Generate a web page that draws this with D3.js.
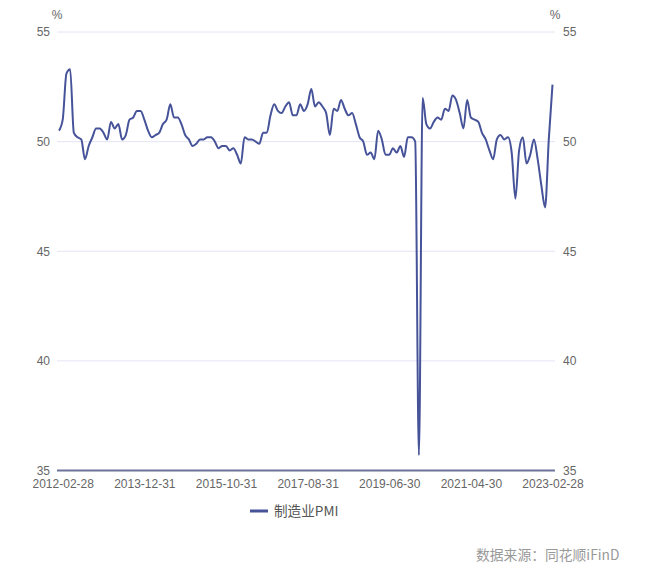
<!DOCTYPE html>
<html>
<head>
<meta charset="utf-8">
<script src="https://cdn.jsdelivr.net/npm/d3@7"></script>
<style>
  html, body { margin: 0; padding: 0; background: #fff; }
  svg { display: block; }
</style>
</head>
<body>
<svg id="chart" width="657" height="572"></svg>
<script>
// Monthly China manufacturing PMI, 2012-01 .. 2023-02
const startMonth = "2012-01";
const pmiValues = [
  50.5, 51.0, 53.1, 53.3, 50.4, 50.2, 50.1, 49.2, 49.8, 50.2, 50.6, 50.6,
  50.4, 50.1, 50.9, 50.6, 50.8, 50.1, 50.3, 51.0, 51.1, 51.4, 51.4, 51.0,
  50.5, 50.2, 50.3, 50.4, 50.8, 51.0, 51.7, 51.1, 51.1, 50.8, 50.3, 50.1,
  49.8, 49.9, 50.1, 50.1, 50.2, 50.2, 50.0, 49.7, 49.8, 49.8, 49.6, 49.7,
  49.4, 49.0, 50.2, 50.1, 50.1, 50.0, 49.9, 50.4, 50.4, 51.2, 51.7, 51.4,
  51.3, 51.6, 51.8, 51.2, 51.2, 51.7, 51.4, 51.7, 52.4, 51.6, 51.8, 51.6,
  51.3, 50.3, 51.5, 51.4, 51.9, 51.5, 51.2, 51.3, 50.8, 50.2, 50.0, 49.4,
  49.5, 49.2, 50.5, 50.1, 49.4, 49.4, 49.7, 49.5, 49.8, 49.3, 50.2, 50.2,
  50.0, 35.7, 52.0, 50.8, 50.6, 50.9, 51.1, 51.0, 51.5, 51.4, 52.1, 51.9,
  51.3, 50.6, 51.9, 51.1, 51.0, 50.9, 50.4, 50.1, 49.6, 49.2, 50.1, 50.3,
  50.1, 50.2, 49.5, 47.4, 49.6, 50.2, 49.0, 49.4, 50.1, 49.2, 48.0, 47.0,
  50.1, 52.6
];
const tickLabels = ["2012-02-28", "2013-12-31", "2015-10-31", "2017-08-31", "2019-06-30", "2021-04-30", "2023-02-28"];
const yTicks = [35, 40, 45, 50, 55];
const seriesName = "制造业PMI";
const unitLabel = "%";
const sourceText = "数据来源：同花顺iFinD";

// month categories
const fmtMonth = d3.timeFormat("%Y-%m");
const parseMonth = d3.timeParse("%Y-%m");
const t0 = parseMonth(startMonth);
const months = pmiValues.map((v, i) => fmtMonth(d3.timeMonth.offset(t0, i)));
const data = months.map((m, i) => ({ month: m, value: pmiValues[i] }));

const svg = d3.select("#chart");
const axisFont = "'Liberation Sans', Arial, sans-serif";
const cjkFont = "'Noto Sans CJK SC', 'Liberation Sans', sans-serif";
const lineColor = "#465399";

const x = d3.scalePoint().domain(months).range([59, 552.5]);
const y = d3.scaleLinear().domain([35, 55]).range([470.5, 32]);
const axisX0 = 57, axisX1 = 555;

// grid lines
svg.append("g").selectAll("line")
  .data(yTicks.filter(t => t !== 35))
  .join("line")
  .attr("x1", axisX0).attr("x2", axisX1)
  .attr("y1", d => y(d)).attr("y2", d => y(d))
  .attr("stroke", "#e3e4f4").attr("stroke-width", 1);

// left axis labels
const yLeft = d3.axisLeft(y).tickValues(yTicks).tickSize(0).tickPadding(0);
svg.append("g").attr("transform", "translate(50,0)").call(yLeft)
  .call(g => g.select(".domain").remove())
  .call(g => g.selectAll("text").attr("fill", "#666").attr("font-size", 12).attr("font-family", axisFont));

// right axis labels
const yRight = d3.axisRight(y).tickValues(yTicks).tickSize(0).tickPadding(0);
svg.append("g").attr("transform", "translate(563,0)").call(yRight)
  .call(g => g.select(".domain").remove())
  .call(g => g.selectAll("text").attr("fill", "#666").attr("font-size", 12).attr("font-family", axisFont));

// unit labels
svg.append("text").attr("x", 57).attr("y", 19).attr("text-anchor", "middle")
  .attr("fill", "#666").attr("font-size", 12).attr("font-family", axisFont).text(unitLabel);
svg.append("text").attr("x", 555).attr("y", 19).attr("text-anchor", "middle")
  .attr("fill", "#666").attr("font-size", 12).attr("font-family", axisFont).text(unitLabel);

// bottom x axis
const tickMonths = tickLabels.map(s => s.slice(0, 7));
const xAxis = d3.axisBottom(x).tickValues(tickMonths).tickSize(0).tickPadding(9)
  .tickFormat(m => tickLabels[tickMonths.indexOf(m)]);
svg.append("g").attr("transform", `translate(0,${y(35)})`).call(xAxis)
  .call(g => g.select(".domain").remove())
  .call(g => g.selectAll("text").attr("fill", "#666").attr("font-size", 12).attr("font-family", axisFont));

svg.append("line")
  .attr("x1", axisX0).attr("x2", axisX1)
  .attr("y1", y(35)).attr("y2", y(35))
  .attr("stroke", "#6f7399").attr("stroke-width", 2);

// series line
const line = d3.line()
  .x(d => x(d.month))
  .y(d => y(d.value))
  .curve(d3.curveMonotoneX);
svg.append("path").datum(data)
  .attr("d", line)
  .attr("fill", "none")
  .attr("stroke", lineColor)
  .attr("stroke-width", 2)
  .attr("stroke-linejoin", "round");

// legend
const lg = svg.append("g");
lg.append("line").attr("x1", 250).attr("x2", 268).attr("y1", 511).attr("y2", 511)
  .attr("stroke", lineColor).attr("stroke-width", 3);
lg.append("text").attr("x", 274).attr("y", 511).attr("dy", "0.35em")
  .attr("fill", "#555").attr("font-size", 13.6).attr("font-family", cjkFont).text(seriesName);

// source
svg.append("text").attr("x", 476).attr("y", 555).attr("dy", "0.35em")
  .attr("fill", "#999").attr("font-size", 13.8).attr("font-family", cjkFont).text(sourceText);
</script>
</body>
</html>
